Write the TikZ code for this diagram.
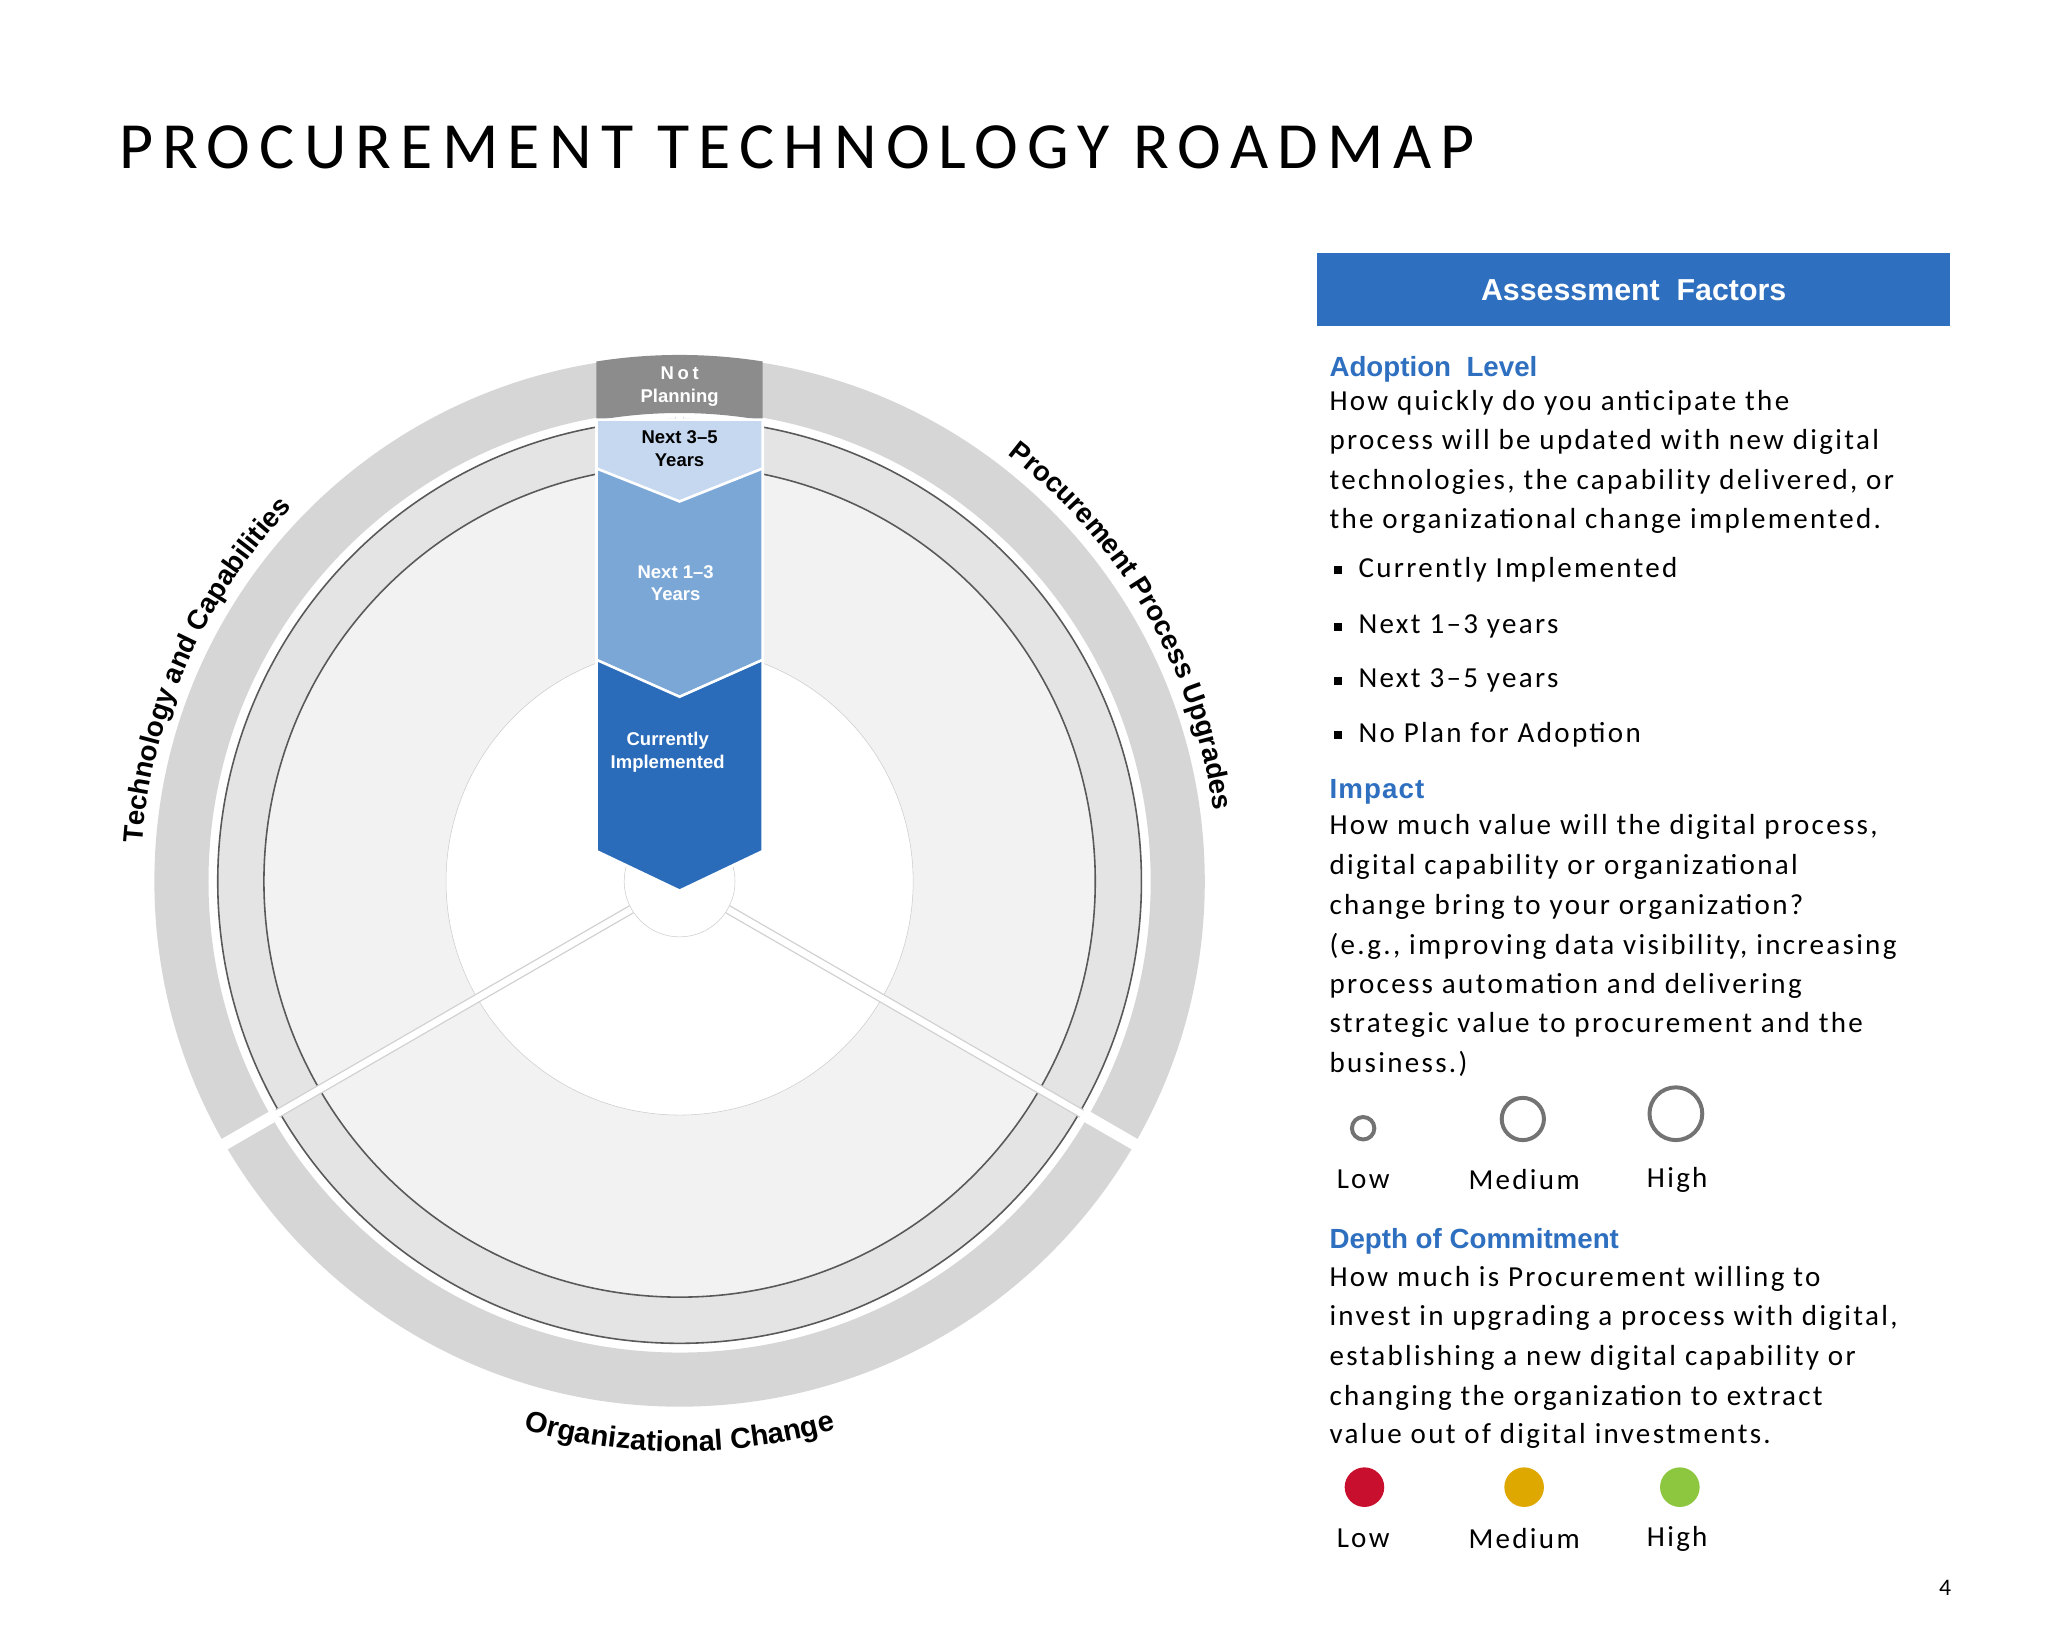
\documentclass[tikz,border=0pt]{standalone}
\usepackage{fontspec}
\setmainfont{Carlito}
\setsansfont{Liberation Sans}
\usetikzlibrary{decorations.text}
\definecolor{hdr}{HTML}{2E6FC0}
\definecolor{ring}{HTML}{D6D6D6}
\definecolor{band}{HTML}{E4E4E4}
\definecolor{pale}{HTML}{F2F2F2}
\definecolor{np}{HTML}{8C8C8C}
\definecolor{b1}{HTML}{C5D8F0}
\definecolor{b2}{HTML}{7BA7D7}
\definecolor{b3}{HTML}{2A6BBA}
\definecolor{dred}{HTML}{C8102E}
\definecolor{dgold}{HTML}{DFA800}
\definecolor{dgreen}{HTML}{8DC63F}
\tikzset{
 body/.style={anchor=west,font=\fontsize{22}{22}\selectfont\addfontfeatures{LetterSpace=8},text=black},
 head/.style={anchor=west,font=\sffamily\bfseries\fontsize{21}{21}\selectfont,text=hdr},
 arrtxt/.style={font=\sffamily\bfseries\fontsize{14}{17}\selectfont,align=center},
 curv/.style={decorate,decoration={text along path,text align=center}},
}
\begin{document}
\begin{tikzpicture}[x=1pt,y=1pt]
\useasboundingbox[fill=white] (0,0) rectangle (1552,1241);
% ---------- wheel ----------
\begin{scope}[shift={(515,573)}]
 \fill[ring,even odd rule] (0,0) circle[radius=398] (0,0) circle[radius=357];
 \fill[band,even odd rule] (0,0) circle[radius=350] (0,0) circle[radius=315];
 \fill[pale] (0,0) circle[radius=315];
 \draw[black!65,line width=1.2] (0,0) circle[radius=350] (0,0) circle[radius=315];
 \fill[white,draw=black!20] (0,0) circle[radius=177];
 \foreach \a in {90,210,330}
  \draw[draw=black!18,double=white,double distance=5,line width=1] (\a:42) -- (\a:352);
 \foreach \a in {210,330}
  \draw[white,line width=9] (\a:352) -- (\a:405);
 \fill[white,draw=black!20] (0,0) circle[radius=42];
 % not planning
 \begin{scope}
  \clip (-63,0) rectangle (63,420);
  \fill[np,even odd rule] (0,0) circle[radius=399] (0,0) circle[radius=355];
 \end{scope}
 \node[arrtxt,text=white] (np) at (0,375) {\addfontfeatures{LetterSpace=20}Not\\Planning};
 % chevrons
 \draw[fill=b3,draw=white,line width=2] (-63,168) -- (63,168) -- (63,23) -- (0,-7) -- (-63,23) -- cycle;
 \draw[fill=b2,draw=white,line width=2] (-63,313) -- (63,313) -- (63,168) -- (0,140) -- (-63,168) -- cycle;
 \draw[fill=b1,draw=white,line width=2] (-63,350) -- (63,350) -- (63,313) -- (0,288) -- (-63,313) -- cycle;
 \node[arrtxt,text=black] (n35) at (0,328) {Next 3–5\\Years};
 \node[arrtxt,text=white] (n13) at (-3,226) {Next 1–3\\Years};
 \node[arrtxt,text=white] (cur) at (-9,98) {Currently\\Implemented};
 % curved labels
 \path[curv,decoration={text={|\sffamily\bfseries\fontsize{21}{21}\selectfont|Technology and Capabilities}}]
   (190:408) arc[start angle=190,end angle=122,radius=408];
 \path[curv,decoration={text={|\sffamily\bfseries\fontsize{21}{21}\selectfont|Procurement Process Upgrades}}]
   (65:408) arc[start angle=65,end angle=-5,radius=408];
 \path[curv,decoration={text={|\sffamily\bfseries\fontsize{22}{22}\selectfont|Organizational Change}}]
   (250:432) arc[start angle=250,end angle=290,radius=432];
\end{scope}
% ---------- title and panel ----------
\begin{scope}[shift={(0,1241)},yscale=-1]
 \node[anchor=base west,inner sep=0,font=\fontsize{50}{50}\selectfont\addfontfeatures{LetterSpace=14}] (title) at (90,128) {PROCUREMENT TECHNOLOGY ROADMAP};
 \fill[hdr] (998,192) rectangle (1478,247);
 \node[font=\sffamily\bfseries\fontsize{23}{23}\selectfont,text=white] (af) at (1238,220) {Assessment\ \ Factors};
 \node[head] (h1) at (1004,280) {Adoption\ \ Level};
 \node[body] at (1004,305) {How quickly do you anticipate the};
 \node[body] at (1004,335) {process will be updated with new digital};
 \node[body] at (1004,365) {technologies, the capability delivered, or};
 \node[body] at (1004,395) {the organizational change implemented.};
 \foreach \y/\t in {432/Currently Implemented,475/Next 1–3 years,516/Next 3–5 years,557/No Plan for Adoption}{
  \fill (1011,\y-3) rectangle (1017,\y+3);
  \node[body] at (1026,\y) {\t};
 }
 \node[head] (h2) at (1004,600) {\addfontfeatures{LetterSpace=4}Impact};
 \foreach \y/\t in {627/{How much value will the digital process,},657/digital capability or organizational,687/change bring to your organization?,717/{(e.g., improving data visibility, increasing},747/process automation and delivering,777/strategic value to procurement and the,806/business.)}
  \node[body] at (1004,\y) {\t};
 \draw[black!55,line width=3] (1033,855) circle[radius=8.5];
 \draw[black!55,line width=3] (1154,848) circle[radius=16];
 \draw[black!55,line width=3] (1270,844) circle[radius=20];
 \foreach \x/\t in {1033/Low,1155/Medium,1271/High}{
  \node[body,anchor=center] at (\x,894) {\t};
  \node[body,anchor=center] at (\x,1166) {\t};
 }
 \node[head] (h3) at (1004,941) {Depth of Commitment};
 \foreach \y/\t in {969/How much is Procurement willing to,999/{invest in upgrading a process with digital,},1029/establishing a new digital capability or,1059/changing the organization to extract,1088/value out of digital investments.}
  \node[body] at (1004,\y) {\t};
 \fill[dred] (1034,1127) circle[radius=15];
 \fill[dgold] (1155,1127) circle[radius=15];
 \fill[dgreen] (1273,1127) circle[radius=15];
 \node[font=\fontsize{18}{18}\selectfont] (pg) at (1474,1203) {4};
\end{scope}
\end{tikzpicture}
\end{document}
